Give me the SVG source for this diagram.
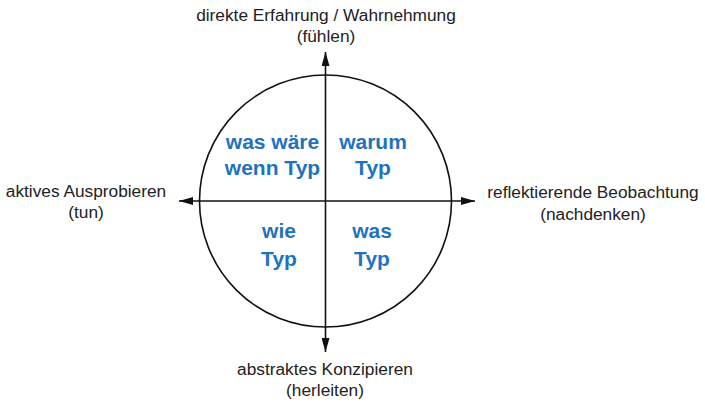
<svg xmlns="http://www.w3.org/2000/svg" width="705" height="405" viewBox="0 0 705 405">
<defs>
<marker id="ah" viewBox="0 0 14 8" refX="14" refY="4" markerWidth="14" markerHeight="8" markerUnits="userSpaceOnUse" orient="auto">
<path d="M0,0 L14,4 L0,8 Z" fill="#111"/>
</marker>
<style>
.lbl{font-family:"Liberation Sans",Arial,sans-serif;font-size:17.3px;fill:#222;text-anchor:middle}
.q{font-family:"Liberation Sans",Arial,sans-serif;font-size:21px;font-weight:bold;fill:#1f72c0;text-anchor:middle}
.ln{stroke:#111;stroke-width:1.6;fill:none}
</style>
</defs>
<rect width="705" height="405" fill="#fff"/>
<g id="circle"><circle class="ln" cx="325.5" cy="201" r="126"/></g>
<g id="connectors">
<line class="ln" x1="325.5" y1="201" x2="325.5" y2="52" marker-end="url(#ah)"/>
<line class="ln" x1="325.5" y1="201" x2="325.5" y2="352" marker-end="url(#ah)"/>
<line class="ln" x1="325.5" y1="201" x2="179" y2="201" marker-end="url(#ah)"/>
<line class="ln" x1="325.5" y1="201" x2="475" y2="201" marker-end="url(#ah)"/>
</g>
<g id="top"><text class="lbl" x="326" y="21">direkte Erfahrung / Wahrnehmung</text><text class="lbl" x="326" y="42">(fühlen)</text></g>
<g id="left"><text class="lbl" x="86" y="197">aktives Ausprobieren</text><text class="lbl" x="86" y="218">(tun)</text></g>
<g id="right"><text class="lbl" x="593" y="198">reflektierende Beobachtung</text><text class="lbl" x="593" y="220">(nachdenken)</text></g>
<g id="bottom"><text class="lbl" x="325" y="375">abstraktes Konzipieren</text><text class="lbl" x="325" y="396">(herleiten)</text></g>
<g id="q1"><text class="q" x="272.5" y="149">was wäre</text><text class="q" x="272.5" y="175">wenn Typ</text></g>
<g id="q2"><text class="q" x="373" y="149">warum</text><text class="q" x="373" y="175">Typ</text></g>
<g id="q3"><text class="q" x="279" y="238">wie</text><text class="q" x="279" y="266">Typ</text></g>
<g id="q4"><text class="q" x="372" y="238">was</text><text class="q" x="372" y="266">Typ</text></g>
</svg>
